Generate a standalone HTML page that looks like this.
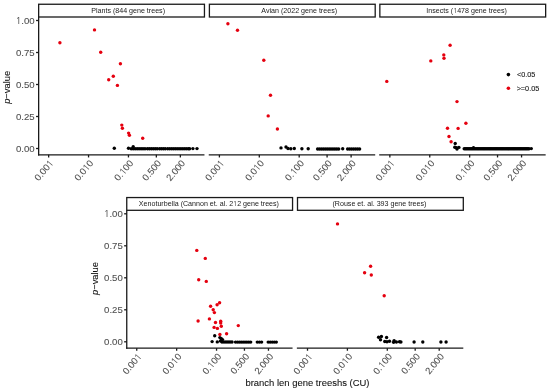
<!DOCTYPE html>
<html><head><meta charset="utf-8"><title>p-value vs branch length</title>
<style>
html,body{margin:0;padding:0;background:#fff;}
body{width:550px;height:391px;overflow:hidden;}
svg{display:block;font-family:"Liberation Sans",Arial,Helvetica,sans-serif;}
.k{fill:#111;stroke:#111;stroke-width:0.08;}
.s{fill:#1a1a1a;stroke:#1a1a1a;stroke-width:0.0;}
.g{fill:#4d4d4d;stroke:#4d4d4d;stroke-width:0.08;}
.n1{font-family:NanumGothic,"Liberation Sans",sans-serif;font-size:0.94em;}
</style></head><body>
<svg width="550" height="391" viewBox="0 0 550 391">
<rect width="550" height="391" fill="#fff"/>
<g>
<rect x="38.65" y="4.25" width="165.80" height="12.75" fill="#fff" stroke="#1a1a1a" stroke-width="1.3"/>
<text x="91.22" y="13.00" font-size="7.1" class="s" textLength="73.80" lengthAdjust="spacing">Plants (844 gene trees)</text>
<line x1="38.65" y1="17.00" x2="38.65" y2="155.50" stroke="#1a1a1a" stroke-width="1.3"/>
<line x1="38.00" y1="154.85" x2="204.45" y2="154.85" stroke="#1a1a1a" stroke-width="1.3"/>
<line x1="36.05" y1="148.50" x2="38.65" y2="148.50" stroke="#1a1a1a" stroke-width="1.3"/>
<text x="34.65" y="151.80" font-size="9.6" class="g" text-anchor="end">0.00</text>
<line x1="36.05" y1="116.50" x2="38.65" y2="116.50" stroke="#1a1a1a" stroke-width="1.3"/>
<text x="34.65" y="119.80" font-size="9.6" class="g" text-anchor="end">0.25</text>
<line x1="36.05" y1="84.50" x2="38.65" y2="84.50" stroke="#1a1a1a" stroke-width="1.3"/>
<text x="34.65" y="87.80" font-size="9.6" class="g" text-anchor="end">0.50</text>
<line x1="36.05" y1="52.50" x2="38.65" y2="52.50" stroke="#1a1a1a" stroke-width="1.3"/>
<text x="34.65" y="55.80" font-size="9.6" class="g" text-anchor="end">0.75</text>
<line x1="36.05" y1="20.50" x2="38.65" y2="20.50" stroke="#1a1a1a" stroke-width="1.3"/>
<text x="34.65" y="23.80" font-size="9.6" class="g" text-anchor="end"><tspan class="n1">1</tspan>.00</text>
<line x1="48.65" y1="154.85" x2="48.65" y2="157.45" stroke="#1a1a1a" stroke-width="1.3"/>
<text x="54.00" y="163.50" font-size="9.4" class="g" text-anchor="end" transform="rotate(-50 54.00 163.50)">0.00<tspan class="n1">1</tspan></text>
<line x1="88.55" y1="154.85" x2="88.55" y2="157.45" stroke="#1a1a1a" stroke-width="1.3"/>
<text x="93.90" y="163.50" font-size="9.4" class="g" text-anchor="end" transform="rotate(-50 93.90 163.50)">0.0<tspan class="n1">1</tspan>0</text>
<line x1="128.45" y1="154.85" x2="128.45" y2="157.45" stroke="#1a1a1a" stroke-width="1.3"/>
<text x="133.80" y="163.50" font-size="9.4" class="g" text-anchor="end" transform="rotate(-50 133.80 163.50)">0.<tspan class="n1">1</tspan>00</text>
<line x1="156.34" y1="154.85" x2="156.34" y2="157.45" stroke="#1a1a1a" stroke-width="1.3"/>
<text x="161.69" y="163.50" font-size="9.4" class="g" text-anchor="end" transform="rotate(-50 161.69 163.50)">0.500</text>
<line x1="180.36" y1="154.85" x2="180.36" y2="157.45" stroke="#1a1a1a" stroke-width="1.3"/>
<text x="185.71" y="163.50" font-size="9.4" class="g" text-anchor="end" transform="rotate(-50 185.71 163.50)">2.000</text>
<rect x="209.40" y="4.25" width="165.80" height="12.75" fill="#fff" stroke="#1a1a1a" stroke-width="1.3"/>
<text x="261.29" y="13.00" font-size="7.1" class="s" textLength="75.78" lengthAdjust="spacing">Avian (2022 gene trees)</text>
<line x1="208.75" y1="154.85" x2="375.20" y2="154.85" stroke="#1a1a1a" stroke-width="1.3"/>
<line x1="219.40" y1="154.85" x2="219.40" y2="157.45" stroke="#1a1a1a" stroke-width="1.3"/>
<text x="224.75" y="163.50" font-size="9.4" class="g" text-anchor="end" transform="rotate(-50 224.75 163.50)">0.00<tspan class="n1">1</tspan></text>
<line x1="259.30" y1="154.85" x2="259.30" y2="157.45" stroke="#1a1a1a" stroke-width="1.3"/>
<text x="264.65" y="163.50" font-size="9.4" class="g" text-anchor="end" transform="rotate(-50 264.65 163.50)">0.0<tspan class="n1">1</tspan>0</text>
<line x1="299.20" y1="154.85" x2="299.20" y2="157.45" stroke="#1a1a1a" stroke-width="1.3"/>
<text x="304.55" y="163.50" font-size="9.4" class="g" text-anchor="end" transform="rotate(-50 304.55 163.50)">0.<tspan class="n1">1</tspan>00</text>
<line x1="327.09" y1="154.85" x2="327.09" y2="157.45" stroke="#1a1a1a" stroke-width="1.3"/>
<text x="332.44" y="163.50" font-size="9.4" class="g" text-anchor="end" transform="rotate(-50 332.44 163.50)">0.500</text>
<line x1="351.11" y1="154.85" x2="351.11" y2="157.45" stroke="#1a1a1a" stroke-width="1.3"/>
<text x="356.46" y="163.50" font-size="9.4" class="g" text-anchor="end" transform="rotate(-50 356.46 163.50)">2.000</text>
<rect x="379.85" y="4.25" width="165.80" height="12.75" fill="#fff" stroke="#1a1a1a" stroke-width="1.3"/>
<text x="426.34" y="13.00" font-size="7.1" class="s" textLength="80.51" lengthAdjust="spacing">Insects (<tspan class="n1">1</tspan>478 gene trees)</text>
<line x1="379.20" y1="154.85" x2="545.65" y2="154.85" stroke="#1a1a1a" stroke-width="1.3"/>
<line x1="389.85" y1="154.85" x2="389.85" y2="157.45" stroke="#1a1a1a" stroke-width="1.3"/>
<text x="395.20" y="163.50" font-size="9.4" class="g" text-anchor="end" transform="rotate(-50 395.20 163.50)">0.00<tspan class="n1">1</tspan></text>
<line x1="429.75" y1="154.85" x2="429.75" y2="157.45" stroke="#1a1a1a" stroke-width="1.3"/>
<text x="435.10" y="163.50" font-size="9.4" class="g" text-anchor="end" transform="rotate(-50 435.10 163.50)">0.0<tspan class="n1">1</tspan>0</text>
<line x1="469.65" y1="154.85" x2="469.65" y2="157.45" stroke="#1a1a1a" stroke-width="1.3"/>
<text x="475.00" y="163.50" font-size="9.4" class="g" text-anchor="end" transform="rotate(-50 475.00 163.50)">0.<tspan class="n1">1</tspan>00</text>
<line x1="497.54" y1="154.85" x2="497.54" y2="157.45" stroke="#1a1a1a" stroke-width="1.3"/>
<text x="502.89" y="163.50" font-size="9.4" class="g" text-anchor="end" transform="rotate(-50 502.89 163.50)">0.500</text>
<line x1="521.56" y1="154.85" x2="521.56" y2="157.45" stroke="#1a1a1a" stroke-width="1.3"/>
<text x="526.91" y="163.50" font-size="9.4" class="g" text-anchor="end" transform="rotate(-50 526.91 163.50)">2.000</text>
<rect x="126.75" y="197.55" width="165.80" height="12.75" fill="#fff" stroke="#1a1a1a" stroke-width="1.3"/>
<text x="138.84" y="206.30" font-size="7.1" class="s" textLength="140.12" lengthAdjust="spacing">Xenoturbella (Cannon et. al. 2<tspan class="n1">1</tspan>2 gene trees)</text>
<line x1="126.75" y1="210.30" x2="126.75" y2="348.80" stroke="#1a1a1a" stroke-width="1.3"/>
<line x1="126.10" y1="348.15" x2="292.55" y2="348.15" stroke="#1a1a1a" stroke-width="1.3"/>
<line x1="124.15" y1="341.80" x2="126.75" y2="341.80" stroke="#1a1a1a" stroke-width="1.3"/>
<text x="122.75" y="345.10" font-size="9.6" class="g" text-anchor="end">0.00</text>
<line x1="124.15" y1="309.80" x2="126.75" y2="309.80" stroke="#1a1a1a" stroke-width="1.3"/>
<text x="122.75" y="313.10" font-size="9.6" class="g" text-anchor="end">0.25</text>
<line x1="124.15" y1="277.80" x2="126.75" y2="277.80" stroke="#1a1a1a" stroke-width="1.3"/>
<text x="122.75" y="281.10" font-size="9.6" class="g" text-anchor="end">0.50</text>
<line x1="124.15" y1="245.80" x2="126.75" y2="245.80" stroke="#1a1a1a" stroke-width="1.3"/>
<text x="122.75" y="249.10" font-size="9.6" class="g" text-anchor="end">0.75</text>
<line x1="124.15" y1="213.80" x2="126.75" y2="213.80" stroke="#1a1a1a" stroke-width="1.3"/>
<text x="122.75" y="217.10" font-size="9.6" class="g" text-anchor="end"><tspan class="n1">1</tspan>.00</text>
<line x1="136.75" y1="348.15" x2="136.75" y2="350.75" stroke="#1a1a1a" stroke-width="1.3"/>
<text x="142.10" y="356.80" font-size="9.4" class="g" text-anchor="end" transform="rotate(-50 142.10 356.80)">0.00<tspan class="n1">1</tspan></text>
<line x1="176.65" y1="348.15" x2="176.65" y2="350.75" stroke="#1a1a1a" stroke-width="1.3"/>
<text x="182.00" y="356.80" font-size="9.4" class="g" text-anchor="end" transform="rotate(-50 182.00 356.80)">0.0<tspan class="n1">1</tspan>0</text>
<line x1="216.55" y1="348.15" x2="216.55" y2="350.75" stroke="#1a1a1a" stroke-width="1.3"/>
<text x="221.90" y="356.80" font-size="9.4" class="g" text-anchor="end" transform="rotate(-50 221.90 356.80)">0.<tspan class="n1">1</tspan>00</text>
<line x1="244.44" y1="348.15" x2="244.44" y2="350.75" stroke="#1a1a1a" stroke-width="1.3"/>
<text x="249.79" y="356.80" font-size="9.4" class="g" text-anchor="end" transform="rotate(-50 249.79 356.80)">0.500</text>
<line x1="268.46" y1="348.15" x2="268.46" y2="350.75" stroke="#1a1a1a" stroke-width="1.3"/>
<text x="273.81" y="356.80" font-size="9.4" class="g" text-anchor="end" transform="rotate(-50 273.81 356.80)">2.000</text>
<rect x="297.50" y="197.55" width="165.80" height="12.75" fill="#fff" stroke="#1a1a1a" stroke-width="1.3"/>
<text x="332.46" y="206.30" font-size="7.1" class="s" textLength="93.93" lengthAdjust="spacing">(Rouse et. al. 393 gene trees)</text>
<line x1="296.85" y1="348.15" x2="463.30" y2="348.15" stroke="#1a1a1a" stroke-width="1.3"/>
<line x1="307.50" y1="348.15" x2="307.50" y2="350.75" stroke="#1a1a1a" stroke-width="1.3"/>
<text x="312.85" y="356.80" font-size="9.4" class="g" text-anchor="end" transform="rotate(-50 312.85 356.80)">0.00<tspan class="n1">1</tspan></text>
<line x1="347.40" y1="348.15" x2="347.40" y2="350.75" stroke="#1a1a1a" stroke-width="1.3"/>
<text x="352.75" y="356.80" font-size="9.4" class="g" text-anchor="end" transform="rotate(-50 352.75 356.80)">0.0<tspan class="n1">1</tspan>0</text>
<line x1="387.30" y1="348.15" x2="387.30" y2="350.75" stroke="#1a1a1a" stroke-width="1.3"/>
<text x="392.65" y="356.80" font-size="9.4" class="g" text-anchor="end" transform="rotate(-50 392.65 356.80)">0.<tspan class="n1">1</tspan>00</text>
<line x1="415.19" y1="348.15" x2="415.19" y2="350.75" stroke="#1a1a1a" stroke-width="1.3"/>
<text x="420.54" y="356.80" font-size="9.4" class="g" text-anchor="end" transform="rotate(-50 420.54 356.80)">0.500</text>
<line x1="439.21" y1="348.15" x2="439.21" y2="350.75" stroke="#1a1a1a" stroke-width="1.3"/>
<text x="444.56" y="356.80" font-size="9.4" class="g" text-anchor="end" transform="rotate(-50 444.56 356.80)">2.000</text>
<circle cx="59.90" cy="42.80" r="1.7" fill="#e5000f"/>
<circle cx="94.50" cy="29.90" r="1.7" fill="#e5000f"/>
<circle cx="100.70" cy="52.30" r="1.7" fill="#e5000f"/>
<circle cx="120.40" cy="63.80" r="1.7" fill="#e5000f"/>
<circle cx="113.30" cy="76.30" r="1.7" fill="#e5000f"/>
<circle cx="108.70" cy="79.80" r="1.7" fill="#e5000f"/>
<circle cx="117.40" cy="85.40" r="1.7" fill="#e5000f"/>
<circle cx="121.80" cy="125.10" r="1.7" fill="#e5000f"/>
<circle cx="122.40" cy="128.30" r="1.7" fill="#e5000f"/>
<circle cx="128.60" cy="133.10" r="1.7" fill="#e5000f"/>
<circle cx="129.40" cy="135.20" r="1.7" fill="#e5000f"/>
<circle cx="142.70" cy="138.20" r="1.7" fill="#e5000f"/>
<circle cx="114.30" cy="148.30" r="1.7" fill="#000000"/>
<circle cx="128.50" cy="148.30" r="1.7" fill="#000000"/>
<circle cx="131.20" cy="148.70" r="1.7" fill="#000000"/>
<circle cx="133.17" cy="148.70" r="1.7" fill="#000000"/>
<circle cx="135.14" cy="148.70" r="1.7" fill="#000000"/>
<circle cx="137.11" cy="148.70" r="1.7" fill="#000000"/>
<circle cx="139.09" cy="148.70" r="1.7" fill="#000000"/>
<circle cx="141.06" cy="148.70" r="1.7" fill="#000000"/>
<circle cx="143.03" cy="148.70" r="1.7" fill="#000000"/>
<circle cx="145.00" cy="148.70" r="1.7" fill="#000000"/>
<circle cx="147.40" cy="148.70" r="1.7" fill="#000000"/>
<circle cx="149.36" cy="148.70" r="1.7" fill="#000000"/>
<circle cx="151.32" cy="148.70" r="1.7" fill="#000000"/>
<circle cx="153.28" cy="148.70" r="1.7" fill="#000000"/>
<circle cx="155.24" cy="148.70" r="1.7" fill="#000000"/>
<circle cx="157.20" cy="148.70" r="1.7" fill="#000000"/>
<circle cx="159.60" cy="148.80" r="1.7" fill="#000000"/>
<circle cx="161.50" cy="148.80" r="1.7" fill="#000000"/>
<circle cx="163.40" cy="148.80" r="1.7" fill="#000000"/>
<circle cx="165.30" cy="148.80" r="1.7" fill="#000000"/>
<circle cx="167.70" cy="148.80" r="1.7" fill="#000000"/>
<circle cx="169.75" cy="148.80" r="1.7" fill="#000000"/>
<circle cx="171.80" cy="148.80" r="1.7" fill="#000000"/>
<circle cx="173.85" cy="148.80" r="1.7" fill="#000000"/>
<circle cx="175.90" cy="148.80" r="1.7" fill="#000000"/>
<circle cx="177.95" cy="148.80" r="1.7" fill="#000000"/>
<circle cx="180.00" cy="148.80" r="1.7" fill="#000000"/>
<circle cx="182.05" cy="148.80" r="1.7" fill="#000000"/>
<circle cx="184.10" cy="148.80" r="1.7" fill="#000000"/>
<circle cx="186.15" cy="148.80" r="1.7" fill="#000000"/>
<circle cx="188.20" cy="148.80" r="1.7" fill="#000000"/>
<circle cx="189.60" cy="148.70" r="1.7" fill="#000000"/>
<circle cx="133.20" cy="146.80" r="1.7" fill="#000000"/>
<circle cx="192.90" cy="148.60" r="1.7" fill="#000000"/>
<circle cx="197.00" cy="148.60" r="1.7" fill="#000000"/>
<circle cx="227.90" cy="23.80" r="1.7" fill="#e5000f"/>
<circle cx="237.50" cy="30.20" r="1.7" fill="#e5000f"/>
<circle cx="263.80" cy="60.20" r="1.7" fill="#e5000f"/>
<circle cx="270.50" cy="95.20" r="1.7" fill="#e5000f"/>
<circle cx="268.20" cy="115.90" r="1.7" fill="#e5000f"/>
<circle cx="277.40" cy="129.00" r="1.7" fill="#e5000f"/>
<circle cx="281.00" cy="147.90" r="1.7" fill="#000000"/>
<circle cx="286.00" cy="147.00" r="1.7" fill="#000000"/>
<circle cx="288.00" cy="148.50" r="1.7" fill="#000000"/>
<circle cx="290.80" cy="148.70" r="1.7" fill="#000000"/>
<circle cx="294.30" cy="148.50" r="1.7" fill="#000000"/>
<circle cx="301.90" cy="148.70" r="1.7" fill="#000000"/>
<circle cx="308.20" cy="148.70" r="1.7" fill="#000000"/>
<circle cx="342.70" cy="148.70" r="1.7" fill="#000000"/>
<circle cx="317.60" cy="149.00" r="1.7" fill="#000000"/>
<circle cx="319.52" cy="149.00" r="1.7" fill="#000000"/>
<circle cx="321.44" cy="149.00" r="1.7" fill="#000000"/>
<circle cx="323.35" cy="149.00" r="1.7" fill="#000000"/>
<circle cx="325.27" cy="149.00" r="1.7" fill="#000000"/>
<circle cx="327.19" cy="149.00" r="1.7" fill="#000000"/>
<circle cx="329.11" cy="149.00" r="1.7" fill="#000000"/>
<circle cx="331.03" cy="149.00" r="1.7" fill="#000000"/>
<circle cx="332.95" cy="149.00" r="1.7" fill="#000000"/>
<circle cx="334.86" cy="149.00" r="1.7" fill="#000000"/>
<circle cx="336.78" cy="149.00" r="1.7" fill="#000000"/>
<circle cx="338.70" cy="149.00" r="1.7" fill="#000000"/>
<circle cx="347.60" cy="149.00" r="1.7" fill="#000000"/>
<circle cx="349.60" cy="149.00" r="1.7" fill="#000000"/>
<circle cx="351.60" cy="149.00" r="1.7" fill="#000000"/>
<circle cx="353.60" cy="149.00" r="1.7" fill="#000000"/>
<circle cx="355.60" cy="149.00" r="1.7" fill="#000000"/>
<circle cx="357.60" cy="149.00" r="1.7" fill="#000000"/>
<circle cx="359.60" cy="149.00" r="1.7" fill="#000000"/>
<circle cx="386.80" cy="81.40" r="1.7" fill="#e5000f"/>
<circle cx="430.80" cy="60.90" r="1.7" fill="#e5000f"/>
<circle cx="443.80" cy="54.90" r="1.7" fill="#e5000f"/>
<circle cx="444.00" cy="58.30" r="1.7" fill="#e5000f"/>
<circle cx="450.10" cy="45.30" r="1.7" fill="#e5000f"/>
<circle cx="457.00" cy="101.60" r="1.7" fill="#e5000f"/>
<circle cx="465.90" cy="123.20" r="1.7" fill="#e5000f"/>
<circle cx="447.50" cy="128.20" r="1.7" fill="#e5000f"/>
<circle cx="458.10" cy="128.40" r="1.7" fill="#e5000f"/>
<circle cx="449.00" cy="136.50" r="1.7" fill="#e5000f"/>
<circle cx="451.10" cy="141.80" r="1.7" fill="#e5000f"/>
<circle cx="455.20" cy="143.50" r="1.7" fill="#000000"/>
<circle cx="454.80" cy="147.20" r="1.7" fill="#000000"/>
<circle cx="457.00" cy="149.10" r="1.7" fill="#000000"/>
<circle cx="458.90" cy="147.40" r="1.7" fill="#000000"/>
<circle cx="456.50" cy="147.80" r="1.7" fill="#000000"/>
<circle cx="464.20" cy="148.80" r="1.7" fill="#000000"/>
<circle cx="465.40" cy="148.80" r="1.7" fill="#000000"/>
<circle cx="466.60" cy="148.80" r="1.7" fill="#000000"/>
<circle cx="467.80" cy="148.80" r="1.7" fill="#000000"/>
<circle cx="469.00" cy="148.80" r="1.7" fill="#000000"/>
<circle cx="470.20" cy="148.80" r="1.7" fill="#000000"/>
<circle cx="471.40" cy="148.80" r="1.7" fill="#000000"/>
<circle cx="472.60" cy="148.80" r="1.7" fill="#000000"/>
<circle cx="473.80" cy="148.80" r="1.7" fill="#000000"/>
<circle cx="475.00" cy="148.80" r="1.7" fill="#000000"/>
<circle cx="476.20" cy="148.80" r="1.7" fill="#000000"/>
<circle cx="477.40" cy="148.80" r="1.7" fill="#000000"/>
<circle cx="478.60" cy="148.80" r="1.7" fill="#000000"/>
<circle cx="479.80" cy="148.80" r="1.7" fill="#000000"/>
<circle cx="481.00" cy="148.80" r="1.7" fill="#000000"/>
<circle cx="482.20" cy="148.80" r="1.7" fill="#000000"/>
<circle cx="483.40" cy="148.80" r="1.7" fill="#000000"/>
<circle cx="484.60" cy="148.80" r="1.7" fill="#000000"/>
<circle cx="485.80" cy="148.80" r="1.7" fill="#000000"/>
<circle cx="487.00" cy="148.80" r="1.7" fill="#000000"/>
<circle cx="488.20" cy="148.80" r="1.7" fill="#000000"/>
<circle cx="489.40" cy="148.80" r="1.7" fill="#000000"/>
<circle cx="490.60" cy="148.80" r="1.7" fill="#000000"/>
<circle cx="491.80" cy="148.80" r="1.7" fill="#000000"/>
<circle cx="493.00" cy="148.80" r="1.7" fill="#000000"/>
<circle cx="494.20" cy="148.80" r="1.7" fill="#000000"/>
<circle cx="495.40" cy="148.80" r="1.7" fill="#000000"/>
<circle cx="496.60" cy="148.80" r="1.7" fill="#000000"/>
<circle cx="497.80" cy="148.80" r="1.7" fill="#000000"/>
<circle cx="499.00" cy="148.80" r="1.7" fill="#000000"/>
<circle cx="500.20" cy="148.80" r="1.7" fill="#000000"/>
<circle cx="501.40" cy="148.80" r="1.7" fill="#000000"/>
<circle cx="502.60" cy="148.80" r="1.7" fill="#000000"/>
<circle cx="503.80" cy="148.80" r="1.7" fill="#000000"/>
<circle cx="505.00" cy="148.80" r="1.7" fill="#000000"/>
<circle cx="506.20" cy="148.80" r="1.7" fill="#000000"/>
<circle cx="507.40" cy="148.80" r="1.7" fill="#000000"/>
<circle cx="508.60" cy="148.80" r="1.7" fill="#000000"/>
<circle cx="509.80" cy="148.80" r="1.7" fill="#000000"/>
<circle cx="511.00" cy="148.80" r="1.7" fill="#000000"/>
<circle cx="512.20" cy="148.80" r="1.7" fill="#000000"/>
<circle cx="513.40" cy="148.80" r="1.7" fill="#000000"/>
<circle cx="514.60" cy="148.80" r="1.7" fill="#000000"/>
<circle cx="515.80" cy="148.80" r="1.7" fill="#000000"/>
<circle cx="517.00" cy="148.80" r="1.7" fill="#000000"/>
<circle cx="518.20" cy="148.80" r="1.7" fill="#000000"/>
<circle cx="519.40" cy="148.80" r="1.7" fill="#000000"/>
<circle cx="520.60" cy="148.80" r="1.7" fill="#000000"/>
<circle cx="521.80" cy="148.80" r="1.7" fill="#000000"/>
<circle cx="523.00" cy="148.80" r="1.7" fill="#000000"/>
<circle cx="524.20" cy="148.80" r="1.7" fill="#000000"/>
<circle cx="525.40" cy="148.80" r="1.7" fill="#000000"/>
<circle cx="526.60" cy="148.80" r="1.7" fill="#000000"/>
<circle cx="527.80" cy="148.80" r="1.7" fill="#000000"/>
<circle cx="529.00" cy="148.80" r="1.7" fill="#000000"/>
<circle cx="531.30" cy="148.60" r="1.7" fill="#000000"/>
<circle cx="473.50" cy="147.70" r="1.7" fill="#000000"/>
<circle cx="196.80" cy="250.40" r="1.7" fill="#e5000f"/>
<circle cx="205.30" cy="258.40" r="1.7" fill="#e5000f"/>
<circle cx="198.70" cy="279.80" r="1.7" fill="#e5000f"/>
<circle cx="206.30" cy="281.40" r="1.7" fill="#e5000f"/>
<circle cx="219.60" cy="302.80" r="1.7" fill="#e5000f"/>
<circle cx="217.10" cy="304.80" r="1.7" fill="#e5000f"/>
<circle cx="210.60" cy="306.30" r="1.7" fill="#e5000f"/>
<circle cx="213.20" cy="309.70" r="1.7" fill="#e5000f"/>
<circle cx="214.40" cy="312.60" r="1.7" fill="#e5000f"/>
<circle cx="209.40" cy="318.90" r="1.7" fill="#e5000f"/>
<circle cx="198.10" cy="321.00" r="1.7" fill="#e5000f"/>
<circle cx="215.50" cy="322.50" r="1.7" fill="#e5000f"/>
<circle cx="220.70" cy="321.20" r="1.7" fill="#e5000f"/>
<circle cx="220.70" cy="323.00" r="1.7" fill="#e5000f"/>
<circle cx="214.10" cy="327.40" r="1.7" fill="#e5000f"/>
<circle cx="217.40" cy="328.40" r="1.7" fill="#e5000f"/>
<circle cx="221.30" cy="326.30" r="1.7" fill="#e5000f"/>
<circle cx="238.30" cy="325.60" r="1.7" fill="#e5000f"/>
<circle cx="226.60" cy="333.80" r="1.7" fill="#e5000f"/>
<circle cx="214.70" cy="335.80" r="1.7" fill="#000000"/>
<circle cx="212.10" cy="341.60" r="1.7" fill="#000000"/>
<circle cx="217.30" cy="341.90" r="1.7" fill="#000000"/>
<circle cx="219.90" cy="337.60" r="1.7" fill="#000000"/>
<circle cx="221.40" cy="338.70" r="1.7" fill="#000000"/>
<circle cx="222.50" cy="339.60" r="1.7" fill="#000000"/>
<circle cx="220.50" cy="341.00" r="1.7" fill="#000000"/>
<circle cx="219.90" cy="334.50" r="1.7" fill="#e5000f"/>
<circle cx="222.00" cy="342.00" r="1.7" fill="#000000"/>
<circle cx="224.00" cy="342.00" r="1.7" fill="#000000"/>
<circle cx="226.00" cy="342.00" r="1.7" fill="#000000"/>
<circle cx="228.00" cy="342.00" r="1.7" fill="#000000"/>
<circle cx="230.00" cy="342.00" r="1.7" fill="#000000"/>
<circle cx="232.00" cy="342.00" r="1.7" fill="#000000"/>
<circle cx="235.50" cy="342.10" r="1.7" fill="#000000"/>
<circle cx="237.40" cy="342.10" r="1.7" fill="#000000"/>
<circle cx="239.30" cy="342.10" r="1.7" fill="#000000"/>
<circle cx="241.20" cy="342.10" r="1.7" fill="#000000"/>
<circle cx="243.10" cy="342.10" r="1.7" fill="#000000"/>
<circle cx="245.00" cy="342.10" r="1.7" fill="#000000"/>
<circle cx="246.90" cy="342.10" r="1.7" fill="#000000"/>
<circle cx="248.80" cy="342.10" r="1.7" fill="#000000"/>
<circle cx="250.70" cy="342.10" r="1.7" fill="#000000"/>
<circle cx="257.30" cy="342.10" r="1.7" fill="#000000"/>
<circle cx="259.45" cy="342.10" r="1.7" fill="#000000"/>
<circle cx="261.60" cy="342.10" r="1.7" fill="#000000"/>
<circle cx="268.20" cy="342.10" r="1.7" fill="#000000"/>
<circle cx="270.23" cy="342.10" r="1.7" fill="#000000"/>
<circle cx="272.25" cy="342.10" r="1.7" fill="#000000"/>
<circle cx="274.27" cy="342.10" r="1.7" fill="#000000"/>
<circle cx="276.30" cy="342.10" r="1.7" fill="#000000"/>
<circle cx="337.50" cy="223.90" r="1.7" fill="#e5000f"/>
<circle cx="370.60" cy="266.30" r="1.7" fill="#e5000f"/>
<circle cx="364.60" cy="272.70" r="1.7" fill="#e5000f"/>
<circle cx="371.30" cy="275.00" r="1.7" fill="#e5000f"/>
<circle cx="384.20" cy="295.80" r="1.7" fill="#e5000f"/>
<circle cx="378.60" cy="337.20" r="1.7" fill="#000000"/>
<circle cx="381.40" cy="336.50" r="1.7" fill="#000000"/>
<circle cx="380.50" cy="339.70" r="1.7" fill="#000000"/>
<circle cx="386.60" cy="337.50" r="1.7" fill="#000000"/>
<circle cx="384.80" cy="341.50" r="1.7" fill="#000000"/>
<circle cx="387.00" cy="341.80" r="1.7" fill="#000000"/>
<circle cx="389.50" cy="341.30" r="1.7" fill="#000000"/>
<circle cx="394.10" cy="340.60" r="1.7" fill="#000000"/>
<circle cx="393.60" cy="342.20" r="1.7" fill="#000000"/>
<circle cx="396.40" cy="342.00" r="1.7" fill="#000000"/>
<circle cx="399.50" cy="341.80" r="1.7" fill="#000000"/>
<circle cx="400.90" cy="342.00" r="1.7" fill="#000000"/>
<circle cx="414.10" cy="342.00" r="1.7" fill="#000000"/>
<circle cx="422.80" cy="342.00" r="1.7" fill="#000000"/>
<circle cx="440.90" cy="342.00" r="1.7" fill="#000000"/>
<circle cx="446.10" cy="342.00" r="1.7" fill="#000000"/>
<circle cx="508.4" cy="74.6" r="1.8" fill="#000000"/>
<circle cx="508.4" cy="88.2" r="1.8" fill="#e5000f"/>
<text x="516.94" y="77.00" font-size="7.25" class="k" textLength="18.34" lengthAdjust="spacing">&lt;0.05</text>
<text x="516.64" y="90.50" font-size="7.25" class="k" textLength="22.58" lengthAdjust="spacing">&gt;=0.05</text>
<text x="9.60" y="87.30" font-size="9.4" class="k" text-anchor="middle" transform="rotate(-90 9.60 87.30)"><tspan font-style="italic">p</tspan>−value</text>
<text x="97.50" y="278.50" font-size="9.4" class="k" text-anchor="middle" transform="rotate(-90 97.50 278.50)"><tspan font-style="italic">p</tspan>−value</text>
<text x="245.39" y="386.00" font-size="9.46" class="k" textLength="124.09" lengthAdjust="spacing">branch len gene treeshs (CU)</text>
</g>
</svg>
</body></html>
